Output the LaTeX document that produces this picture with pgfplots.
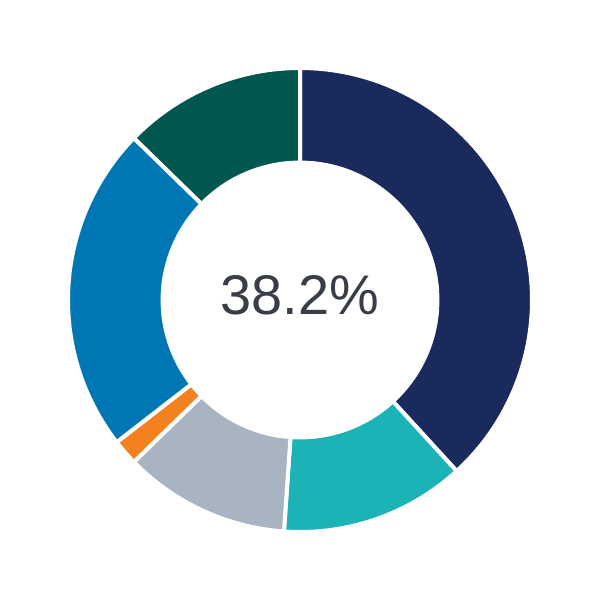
\documentclass[border=0pt]{standalone}
\usepackage{pgfplots}
\pgfplotsset{compat=1.18}
\usepackage{fontspec}
\setmainfont{Liberation Sans}

\definecolor{navy}{HTML}{1B2A5C}
\definecolor{tealc}{HTML}{1BB3B6}
\definecolor{grayb}{HTML}{A9B4C3}
\definecolor{orangec}{HTML}{F38120}
\definecolor{blueb}{HTML}{0077B5}
\definecolor{greend}{HTML}{00574F}
\definecolor{txt}{HTML}{383D48}

% share (%) / colour, clockwise from 12 o'clock
\def\slices{38.2/navy,12.9/tealc,11.6/grayb,1.8/orangec,22.8/blueb,12.7/greend}

\begin{document}
\begin{tikzpicture}
\begin{axis}[
    width=10cm, height=10cm,
    scale only axis,
    xmin=-300, xmax=300,
    ymin=-300, ymax=300,
    hide axis,
    clip=false,
]
\gdef\astart{90}
\foreach \v/\c in \slices {
    \pgfmathsetmacro\aend{\astart-3.6*\v}
    \edef\temp{\noexpand\addplot[fill=\c, draw=white, line width=1.9pt,
        domain=\aend:\astart, samples=90]
        ({232*cos(x)},{232*sin(x)}) -- (axis cs:0,0) -- cycle;}
    \temp
    \global\let\astart\aend
}
% hole
\addplot[fill=white, draw=white, domain=0:360, samples=180]
    ({139*cos(x)},{139*sin(x)}) -- cycle;
\node[text=txt, font=\fontsize{26.5}{30}\selectfont] at (axis cs:0,5) {38.2\%};
\end{axis}
\path (current axis.south west) rectangle (current axis.north east);
\end{tikzpicture}
\end{document}
